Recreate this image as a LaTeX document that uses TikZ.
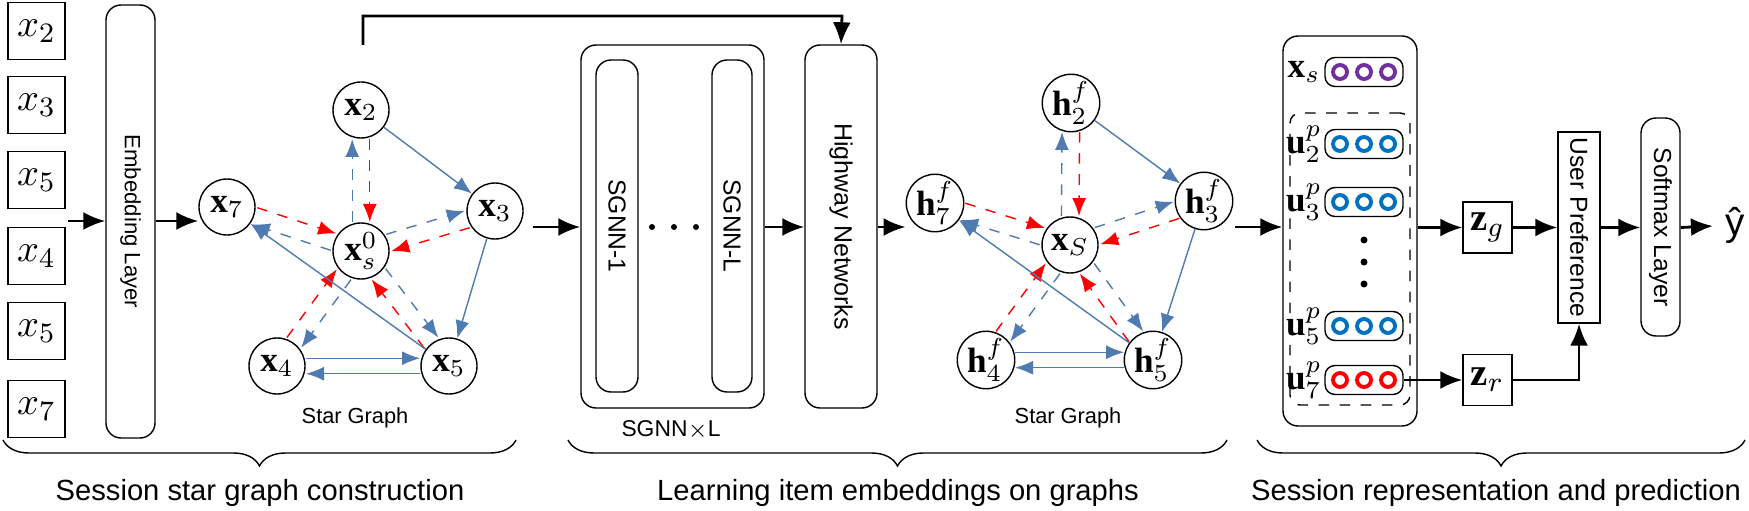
\documentclass[tikz,border=0pt]{standalone}
\usepackage{fontspec}
\setmainfont{Liberation Serif}
\setsansfont{Liberation Sans}
\usetikzlibrary{arrows.meta,calc,decorations.pathreplacing}
\definecolor{bl}{HTML}{4F7BB0}
\definecolor{pu}{HTML}{7030A0}
\definecolor{cb}{HTML}{0070C0}
\definecolor{rr}{HTML}{FF0000}
\tikzset{
  arr/.style={thick,-{Latex[length=2.2mm,width=1.8mm]}},
  edge/.style={bl,thin,-{Latex[length=1.8mm,width=1.4mm]}},
  bsol/.style={edge,shorten <=2.9mm,shorten >=2.9mm},
  rdash/.style={rr,thin,dashed,-{Latex[length=1.8mm,width=1.4mm]},shorten <=2.9mm,shorten >=2.9mm},
  bdash/.style={bl,thin,dashed,-{Latex[length=1.8mm,width=1.4mm]},shorten <=2.9mm,shorten >=2.9mm},
  cn/.style={circle,draw,minimum size=5.6mm,inner sep=0pt,font=\fontsize{10}{10}\selectfont},
  sq/.style={draw,minimum width=5.7mm,minimum height=5.7mm,inner sep=0pt,font=\fontsize{11}{11}\selectfont},
  rbox/.style={draw,rounded corners=1.5mm},
  vt/.style={rotate=-90,font=\sffamily\fontsize{6.3}{7}\selectfont},
  sl/.style={font=\sffamily\fontsize{6.2}{7}\selectfont},
  bl8/.style={font=\sffamily\fontsize{8.3}{9}\selectfont},
  vec/.style={draw,rounded corners=1mm,minimum width=7.8mm,minimum height=2.9mm,inner sep=0pt},
  oc/.style={circle,draw=#1,line width=1.1pt,minimum size=1.4mm,inner sep=0pt},
  br/.style={decorate,decoration={brace,amplitude=2.6mm},thin}
}
\newcommand\spk[2]{%
  \draw[rdash] ($(#1)!2.5pt!90:(#2)$) -- ($(#2)!2.5pt!-90:(#1)$);
  \draw[bdash] ($(#2)!2.5pt!90:(#1)$) -- ($(#1)!2.5pt!-90:(#2)$);}
\newcommand\twoway[2]{%
  \draw[bsol] ($(#1)!2.2pt!90:(#2)$) -- ($(#2)!2.2pt!-90:(#1)$);
  \draw[bsol] ($(#2)!2.2pt!90:(#1)$) -- ($(#1)!2.2pt!-90:(#2)$);}
\newcommand\vrow[4]{% name, y, color, label
  \node[vec] (#1) at (1364,#2) {};
  \node[oc=#3] at (1340,#2) {};\node[oc=#3] at (1364,#2) {};\node[oc=#3] at (1388,#2) {};
  \node[font=\fontsize{10}{10}\selectfont] at (1304,#2) {#4};}
\begin{document}
\begin{tikzpicture}[x=0.1mm,y=-0.1mm]
\useasboundingbox (0,0) rectangle (1749,511);
% inputs
\foreach \n/\y/\l in {a/31/2,b/105/3,c/180/5,d/256/4,e/331/5,f/409/7}
  \node[sq] (in\n) at (36.5,\y) {$x_{\l}$};
\node[rbox,minimum width=4.9mm,minimum height=43.3mm] (emb) at (130.5,221.5) {};
\node[vt] at (emb) {Embedding Layer};
\coordinate (ea) at (68,221);
\draw[arr] (ea) -- (emb.west|-ea);
% graph 1
\node[cn] (x7) at (227,207) {$\mathbf{x}_7$};
\node[cn] (x2) at (361,110) {$\mathbf{x}_2$};
\node[cn] (xs) at (361,251) {$\mathbf{x}_s^0$};
\node[cn] (x3) at (495,211) {$\mathbf{x}_3$};
\node[cn] (x4) at (277,366) {$\mathbf{x}_4$};
\node[cn] (x5) at (449,366) {$\mathbf{x}_5$};
\draw[arr] (emb.east|-ea) -- (x7.west|-ea);
\foreach \s in {x7,x2,x3,x4,x5} {\spk{\s}{xs}}
\draw[edge] (x2) -- (x3);
\draw[edge] (x3) -- (x5);
\draw[edge] (x5) -- (x7);
\twoway{x4}{x5}
\node[sl] at (355,418) {Star Graph};
% SGNN
\coordinate (mr) at (533,227);
\node[rbox,minimum width=18.3mm,minimum height=36.3mm] (sg) at (672.5,226.5) {};
\node[rbox,minimum width=4.2mm,minimum height=33.2mm] (s1) at (617,226) {};
\node[rbox,minimum width=4mm,minimum height=33.2mm] (sL) at (732,226) {};
\node[vt,font=\sffamily\fontsize{7}{8}\selectfont] at (s1) {SGNN-1};
\node[vt,font=\sffamily\fontsize{7}{8}\selectfont] at (sL) {SGNN-L};
\foreach \x in {652,674,696} \fill (\x,227) circle (0.3mm);
\node[sl,font=\sffamily\fontsize{6.5}{7}\selectfont] at (671,430) {SGNN$\times$L};
\draw[arr] (mr) -- (sg.west|-mr);
\node[rbox,minimum width=7.2mm,minimum height=36.3mm] (hw) at (841,226.5) {};
\node[vt,font=\sffamily\fontsize{7.1}{8}\selectfont] at (hw) {Highway Networks};
\draw[arr] (sg.east|-mr) -- (hw.west|-mr);
\coordinate (t0) at (363,45);
\draw[thick,-{Latex[length=2.2mm,width=1.8mm]}] (t0) |- (842,16) -- (hw.north);
% graph 2
\node[cn] (h7) at (935,203) {$\mathbf{h}_7^f$};
\node[cn] (h2) at (1071,103) {$\mathbf{h}_2^f$};
\node[cn] (hs) at (1070,245) {$\mathbf{x}_S$};
\node[cn] (h3) at (1204,201) {$\mathbf{h}_3^f$};
\node[cn] (h4) at (986,360) {$\mathbf{h}_4^f$};
\node[cn] (h5) at (1153,360) {$\mathbf{h}_5^f$};
\draw[arr] (hw.east|-mr) -- (h7.west|-mr);
\foreach \s in {h7,h2,h3,h4,h5} {\spk{\s}{hs}}
\draw[edge] (h2) -- (h3);
\draw[edge] (h3) -- (h5);
\draw[edge] (h5) -- (h7);
\twoway{h4}{h5}
\node[sl] at (1068,418) {Star Graph};
% panel
\node[rbox,minimum width=13.4mm,minimum height=39mm] (pn) at (1350,231) {};
\node[draw,dashed,rounded corners=1mm,minimum width=12mm,minimum height=29.2mm] (dsh) at (1350,259) {};
\coordinate (pa) at (1235,227);
\draw[arr] (pa) -- (pn.west|-pa);
\vrow{vs}{72}{pu}{$\mathbf{x}_s$}
\vrow{v2}{144}{cb}{$\mathbf{u}_2^p$}
\vrow{v3}{202}{cb}{$\mathbf{u}_3^p$}
\vrow{v5}{326}{cb}{$\mathbf{u}_5^p$}
\vrow{v7}{380}{rr}{$\mathbf{u}_7^p$}
\foreach \y in {240,262,284} \fill (1364,\y) circle (0.35mm);
\node[draw,minimum width=4.9mm,minimum height=5.1mm,inner sep=0pt,font=\fontsize{11}{11}\selectfont] (zg) at (1487.5,227.5) {$\mathbf{z}_g$};
\node[draw,minimum width=4.9mm,minimum height=5.1mm,inner sep=0pt,font=\fontsize{11}{11}\selectfont] (zr) at (1487.5,380) {$\mathbf{z}_r$};
\draw[arr] (pn.east|-zg) -- (zg);
\draw[arr] (v7) -- (zr);
\node[draw,minimum width=4.2mm,minimum height=19.1mm] (up) at (1579,227.5) {};
\node[vt,font=\sffamily\fontsize{7}{8}\selectfont] at (up) {User Preference};
\node[rbox,minimum width=3.9mm,minimum height=21.8mm] (sm) at (1660.5,227) {};
\node[vt,font=\sffamily\fontsize{7}{8}\selectfont] at (sm) {Softmax Layer};
\node[font=\sffamily\fontsize{11}{11}\selectfont] (yh) at (1735,225) {ŷ};
\draw[arr] (zg) -- (up.west|-zg);
\draw[arr] (zr) -| (up.south);
\draw[arr] (up.east|-zg) -- (sm.west|-zg);
\draw[arr] (sm.east|-zg) -- (yh);
% braces
\draw[br] (516,440) -- (3,440);
\draw[br] (1227,440) -- (568,440);
\draw[br] (1745,440) -- (1257,440);
\node[bl8] at (260,493) {Session star graph construction};
\node[bl8] at (898,493) {Learning item embeddings on graphs};
\node[bl8] at (1496,493) {Session representation and prediction};
\end{tikzpicture}
\end{document}
